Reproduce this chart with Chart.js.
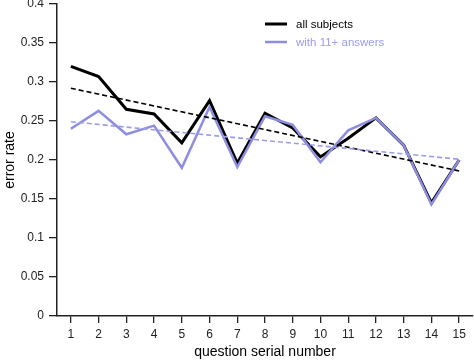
<!DOCTYPE html>
<html>
<head>
<meta charset="utf-8">
<script src="https://cdn.jsdelivr.net/npm/chart.js@4/dist/chart.umd.min.js"></script>
<style>
  html, body { margin: 0; padding: 0; background: #fff; }
  #wrap { width: 474px; height: 361px; }
</style>
</head>
<body>
<div id="wrap"><canvas id="errorChart"></canvas></div>
<script>
// question serial numbers
const questions = ["1", "2", "3", "4", "5", "6", "7", "8", "9", "10", "11", "12", "13", "14", "15"];
// error rate per question
const allSubjects = [0.320, 0.307, 0.265, 0.259, 0.222, 0.276, 0.196, 0.260, 0.241, 0.204, 0.228, 0.254, 0.219, 0.145, 0.200];
const with11Plus = [0.240, 0.263, 0.233, 0.244, 0.190, 0.268, 0.191, 0.256, 0.245, 0.197, 0.238, 0.254, 0.219, 0.143, 0.200];
// fitted trend line end points (first and last question)
const trendEnds = ["1", "15"];
const trendAll = [0.292, 0.186];
const trendWith11 = [0.249, 0.201];
const yTicks = [0, 0.05, 0.1, 0.15, 0.2, 0.25, 0.3, 0.35, 0.4];

const BLACK = "#000000";
const BLUE = "#8e8ee0";
const BLUE_LIGHT = "#9c9cea";
const AXIS = "#222222";
const FONT = "'Liberation Sans', Arial, sans-serif";

const toPoints = (xs, ys) => xs.map((x, i) => ({ x: x, y: ys[i] }));

// kill the automatic label padding so the plot box matches the original
const noPad = (scale) => {
  scale.paddingLeft = 0;
  scale.paddingRight = 0;
  scale.paddingTop = 0;
  scale.paddingBottom = 0;
};

// legend drawn inside the plot area
const innerLegend = {
  id: "innerLegend",
  afterDatasetsDraw(chart) {
    const ctx = chart.ctx;
    const area = chart.chartArea;
    const items = [chart.data.datasets[0], chart.data.datasets[1]];
    const textColors = [BLACK, BLUE_LIGHT];
    const x0 = area.left + (area.right - area.left) * 0.5;
    ctx.save();
    ctx.font = "11.5px " + FONT;
    ctx.textBaseline = "middle";
    items.forEach((ds, i) => {
      const y = area.top + 20 + i * 18;
      ctx.strokeStyle = ds.borderColor;
      ctx.lineWidth = ds.borderWidth;
      ctx.beginPath();
      ctx.moveTo(x0, y);
      ctx.lineTo(x0 + 22, y);
      ctx.stroke();
      ctx.fillStyle = textColors[i];
      ctx.fillText(ds.label, x0 + 31, y + 1);
    });
    ctx.restore();
  },
};

new Chart(document.getElementById("errorChart"), {
  type: "line",
  data: {
    labels: questions,
    datasets: [
      {
        label: "all subjects",
        data: allSubjects,
        borderColor: BLACK,
        borderWidth: 3,
        pointRadius: 0,
        tension: 0,
        order: 4,
      },
      {
        label: "with 11+ answers",
        data: with11Plus,
        borderColor: BLUE,
        borderWidth: 2.5,
        pointRadius: 0,
        tension: 0,
        order: 3,
      },
      {
        label: "trend all",
        data: toPoints(trendEnds, trendAll),
        borderColor: BLACK,
        borderWidth: 1.6,
        borderDash: [5, 3],
        pointRadius: 0,
        order: 2,
      },
      {
        label: "trend 11+",
        data: toPoints(trendEnds, trendWith11),
        borderColor: BLUE_LIGHT,
        borderWidth: 1.6,
        borderDash: [5, 3],
        pointRadius: 0,
        order: 1,
      },
    ],
  },
  options: {
    responsive: true,
    maintainAspectRatio: false,
    animation: false,
    layout: { padding: { top: 4, right: 1, left: 0, bottom: 0 } },
    plugins: {
      legend: { display: false },
      tooltip: { enabled: false },
    },
    scales: {
      x: {
        type: "category",
        offset: true,
        grid: {
          display: true,
          drawOnChartArea: false,
          drawTicks: true,
          tickLength: 7,
          offset: false,
          color: AXIS,
          lineWidth: 1.3,
        },
        border: { display: true, color: AXIS, width: 1.5 },
        ticks: {
          color: AXIS,
          padding: 4,
          maxRotation: 0,
          autoSkip: false,
          font: { family: FONT, size: 12 },
        },
        title: {
          display: true,
          text: "question serial number",
          color: BLACK,
          padding: { top: 0, bottom: 0 },
          font: { family: FONT, size: 14 },
        },
        afterFit: (scale) => {
          scale.height = 45;
          noPad(scale);
        },
      },
      y: {
        min: 0,
        max: 0.4,
        afterBuildTicks: (scale) => {
          scale.ticks = yTicks.map((v) => ({ value: v }));
        },
        grid: {
          display: true,
          drawOnChartArea: false,
          drawTicks: true,
          tickLength: 8,
          color: AXIS,
          lineWidth: 1.3,
        },
        border: { display: true, color: AXIS, width: 1.5 },
        ticks: {
          color: AXIS,
          padding: 5,
          font: { family: FONT, size: 12 },
          callback: (v) => String(v),
        },
        title: {
          display: true,
          text: "error rate",
          color: BLACK,
          padding: { top: 2, bottom: 0 },
          font: { family: FONT, size: 14 },
        },
        afterFit: (scale) => {
          scale.width = 57;
          noPad(scale);
        },
      },
    },
  },
  plugins: [innerLegend],
});
</script>
</body>
</html>
